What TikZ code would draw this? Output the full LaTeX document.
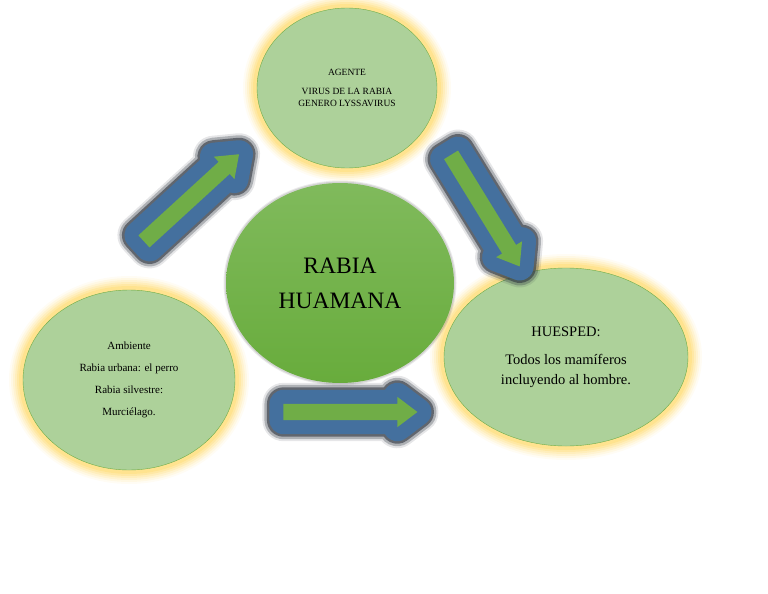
\documentclass[tikz,border=0pt]{standalone}
\usepackage{fontspec}
\setmainfont{Liberation Serif}
\usepackage{tikz}
\usetikzlibrary{arrows,shapes}
\definecolor{verdeclaro}{HTML}{ADD19A}
\definecolor{verdeborde}{HTML}{70AD47}
\definecolor{verdealto}{HTML}{80BA5C}
\definecolor{verdebajo}{HTML}{68AC3C}
\definecolor{halo}{HTML}{FFDB70}
\definecolor{azul}{HTML}{44709E}
\definecolor{sombra}{HTML}{2E3540}
\tikzstyle{burbuja}=[ellipse,inner sep=0pt,align=center,fill=verdeclaro,draw=verdeborde,thin,
  preaction={draw=halo,line width=28pt,opacity=0.08},
  preaction={draw=halo,line width=24pt,opacity=0.12},
  preaction={draw=halo,line width=20pt,opacity=0.16},
  preaction={draw=halo,line width=16pt,opacity=0.22},
  preaction={draw=halo,line width=12pt,opacity=0.3},
  preaction={draw=halo,line width=8pt,opacity=0.4}]
\tikzstyle{centro}=[ellipse,inner sep=0pt,align=center,top color=verdealto,bottom color=verdebajo,
  preaction={draw=black,line width=5pt,opacity=0.08},
  preaction={draw=black,line width=3pt,opacity=0.1}]
\tikzstyle{flecha}=[single arrow,inner sep=0pt,inner ysep=8pt,single arrow head extend=7pt,
  single arrow tip angle=74,fill=verdeborde,
  preaction={draw=sombra,line width=42pt,line join=round,opacity=0.12},
  preaction={draw=sombra,line width=38pt,line join=round,opacity=0.3},
  preaction={draw=sombra,line width=33pt,line join=round,opacity=0.6},
  preaction={draw=azul,line width=28pt,line join=round}]

\begin{document}
\begin{tikzpicture}[x=1pt,y=-1pt]
      \useasboundingbox (0,0) rectangle (768,594);
      \node[burbuja,minimum width=180pt,minimum height=160pt,
        font=\fontsize{9.5}{11}\selectfont] (agente) at (347,88)
        {AGENTE\\[8pt] VIRUS DE LA RABIA\\[1pt] GENERO LYSSAVIRUS};
      \node[burbuja,minimum width=212pt,minimum height=180pt,
        font=\fontsize{11}{13}\selectfont] (ambiente) at (129,380)
        {Ambiente\\[9pt] Rabia urbana: el perro\\[9pt] Rabia silvestre:\\[9pt] Murciélago.};
      \node[burbuja,minimum width=244pt,minimum height=178pt,
        font=\fontsize{14.5}{17}\selectfont] (huesped) at (566,357)
        {HUESPED:\\[11pt] Todos los mamíferos\\[3pt] incluyendo al hombre.};
      \node[centro,minimum width=228pt,minimum height=200pt,
        font=\fontsize{23.5}{28}\selectfont] (rabia) at (340,283)
        {RABIA\\[7pt] HUAMANA};
      \node[flecha,minimum height=129pt,rotate=42.5] (f1) at (187.5,201.5) {};
      \node[flecha,minimum height=131pt,rotate=-58.4] (f2) at (482.5,206) {};
      \node[flecha,minimum height=134pt] (f3) at (345,412) {};
  \end{tikzpicture}
\end{document}
